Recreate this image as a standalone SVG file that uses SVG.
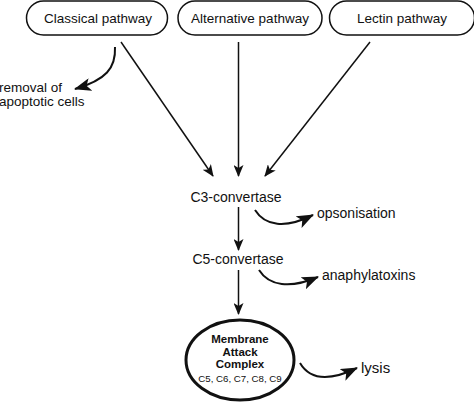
<svg xmlns="http://www.w3.org/2000/svg" width="474" height="404" viewBox="0 0 474 404">
<defs>
<style>
text{font-family:"Liberation Sans",Arial,sans-serif;fill:#111}
.pill{fill:#fff;stroke:#111;stroke-width:1.5}
.ln{stroke:#111;stroke-width:1.5;fill:none}
.cv{stroke:#111;stroke-width:2;fill:none}
.t14{font-size:14px}
.b{font-weight:bold;font-size:11.5px}
</style>
<marker id="ah" viewBox="0 0 12 10" refX="11" refY="5" markerWidth="12" markerHeight="10" markerUnits="userSpaceOnUse" orient="auto">
<path d="M0,0 L12,5 L0,10 L3,5 Z" fill="#111"/>
</marker>
<marker id="ac" viewBox="0 0 17 13" refX="16" refY="6.5" markerWidth="17" markerHeight="13" markerUnits="userSpaceOnUse" orient="auto">
<path d="M0,0 L17,6.5 L0,13 L4,6.5 Z" fill="#111"/>
</marker>
</defs>
<rect width="474" height="404" fill="#fff"/>
<g id="classical"><rect class="pill" x="26.5" y="1" width="141" height="34" rx="17"/><text x="98" y="23" text-anchor="middle" style="font-size:13.5px">Classical pathway</text></g>
<g id="alternative"><rect class="pill" x="178" y="1" width="144" height="34" rx="17"/><text x="250" y="23" text-anchor="middle" style="font-size:13.5px">Alternative pathway</text></g>
<g id="lectin"><rect class="pill" x="329.5" y="1" width="145" height="34" rx="17"/><text x="402" y="23" text-anchor="middle" style="font-size:13.5px">Lectin pathway</text></g>
<g id="removal"><text x="-1" y="92" style="font-size:13.5px">removal of</text><text x="-1" y="106" style="font-size:13.5px">apoptotic cells</text></g>
<g id="c3"><text class="t14" x="236" y="202" text-anchor="middle">C3-convertase</text></g>
<g id="opsonisation"><text class="t14" x="317" y="218">opsonisation</text></g>
<g id="c5"><text class="t14" x="238" y="264" text-anchor="middle">C5-convertase</text></g>
<g id="anaphylatoxins"><text class="t14" x="322" y="280">anaphylatoxins</text></g>
<g id="mac"><ellipse cx="240" cy="360" rx="54" ry="40" fill="#fff" stroke="#111" stroke-width="3"/>
<text class="b" x="240" y="343" text-anchor="middle">Membrane</text>
<text class="b" x="240" y="355.5" text-anchor="middle">Attack</text>
<text class="b" x="240" y="368" text-anchor="middle">Complex</text>
<text x="240" y="382" text-anchor="middle" style="font-size:9.7px">C5, C6, C7, C8, C9</text></g>
<g id="lysis"><text x="361" y="373" style="font-size:15px">lysis</text></g>
<g id="connectors">
<line class="ln" x1="121" y1="42" x2="213" y2="176" marker-end="url(#ah)"/>
<line class="ln" x1="238.5" y1="42" x2="238.5" y2="176" marker-end="url(#ah)"/>
<line class="ln" x1="370" y1="42" x2="265" y2="176" marker-end="url(#ah)"/>
<line class="ln" x1="238.5" y1="207" x2="238.5" y2="250" marker-end="url(#ah)"/>
<line class="ln" x1="238.5" y1="270" x2="238.5" y2="314" marker-end="url(#ah)"/>
<path class="cv" d="M115,47 C116,68 106,80 75,89" marker-end="url(#ac)"/>
<path class="cv" d="M255,210 C265,226 285,229 313,215" marker-end="url(#ac)"/>
<path class="cv" d="M259,270 C269,286 290,289 318,277" marker-end="url(#ac)"/>
<path class="cv" d="M300,363 C310,380 330,381 357,368" marker-end="url(#ac)"/>
</g>
</svg>
